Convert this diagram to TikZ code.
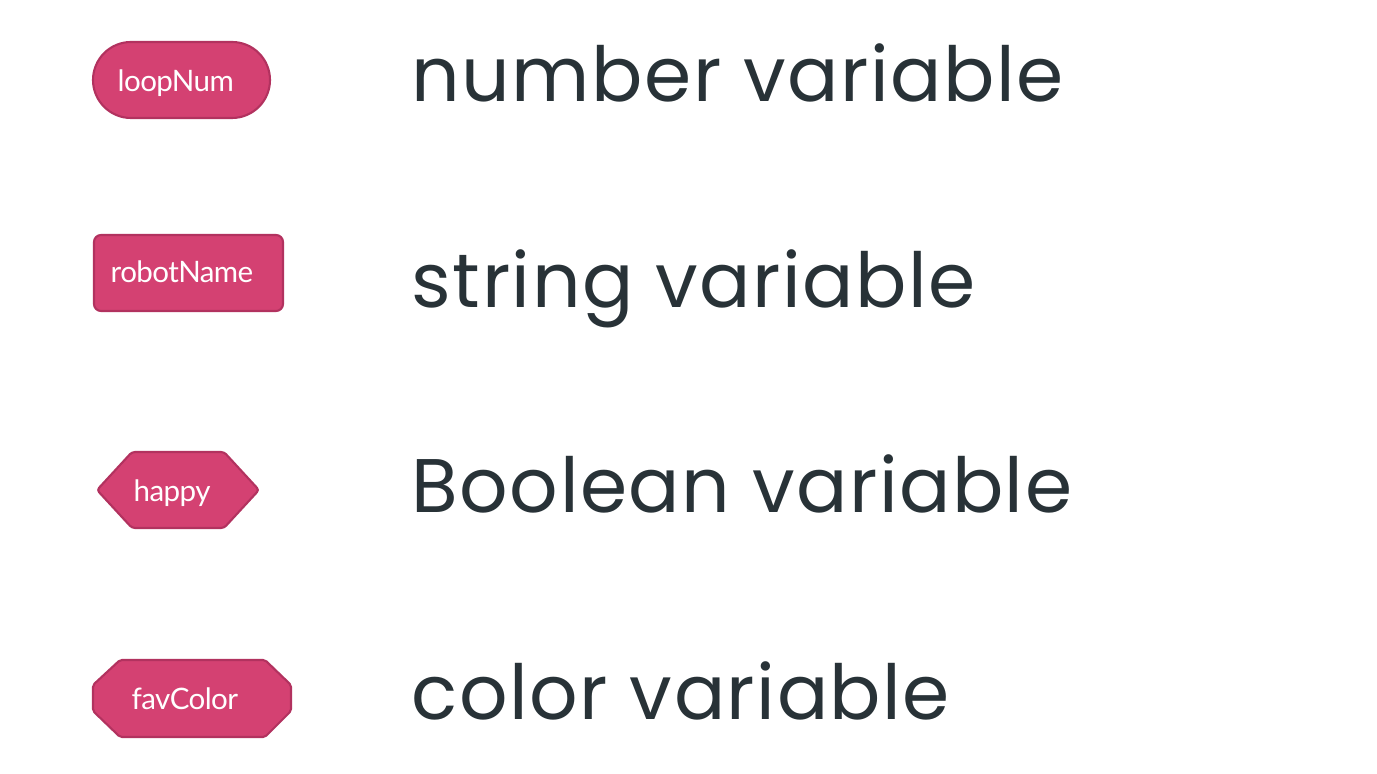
\documentclass[tikz,border=0pt]{standalone}
\usepackage{fontspec}
\setmainfont{Poppins}[LetterSpace=2]
\newfontfamily\labelfont{Lato}[LetterSpace=-2]
\definecolor{varpink}{HTML}{D44172}
\definecolor{varedge}{HTML}{B2325F}
\definecolor{inkgrey}{HTML}{283237}
\tikzset{
  varbox/.style={fill=varpink,draw=varedge,line width=0.6pt},
  vartext/.style={text=white,inner sep=0pt,anchor=base west,font=\labelfont\fontsize{8.4}{10}\selectfont},
  bigtext/.style={text=inkgrey,inner sep=0pt,anchor=base west,font=\fontsize{21.6}{24}\selectfont}
}
\begin{document}
\begin{tikzpicture}[x=0.01cm,y=-0.01cm]
    \useasboundingbox (0,0) rectangle (1377,774);

    % number
    \draw[varbox,rounded corners=0.38cm] (93,42) rectangle (270,118);
    \node[vartext] (loopNum) at (117,92) {loopNum};
    \node[bigtext] (numText) at (411,102) {number variable};

    % string
    \draw[varbox,rounded corners=0.07cm] (94,235) rectangle (283,311);
    \node[vartext] (robotName) at (110,283) {robotName};
    \node[bigtext] (strText) at (411,308) {string variable};

    % Boolean
    \draw[varbox,rounded corners=0.03cm] (97,490) -- (132,452) -- (224,452)
      -- (259,490) -- (224,528) -- (132,528) -- cycle;
    \node[vartext] (happy) at (133,502) {happy};
    \node[bigtext] (boolText) at (411,513) {Boolean variable};

    % color
    \draw[varbox,rounded corners=0.02cm] (93,685) -- (120,660) -- (265,660)
      -- (291,685) -- (291,711) -- (265,737) -- (120,737) -- (93,711) -- cycle;
    \node[vartext] (favColor) at (131,709) {favColor};
    \node[bigtext] (colText) at (411,719) {color variable};
\end{tikzpicture}
\end{document}
